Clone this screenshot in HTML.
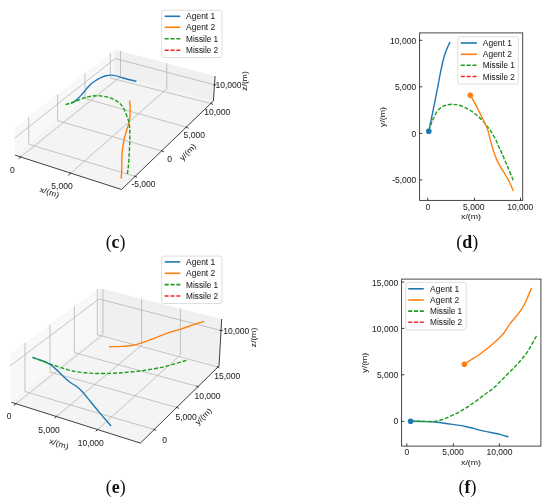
<!DOCTYPE html>
<html><head><meta charset="utf-8"><style>
html,body{margin:0;padding:0;background:#fff;}
svg{display:block;font-family:"Liberation Sans",sans-serif;filter:blur(0.3px);}
</style></head><body>
<svg width="550" height="501" viewBox="0 0 550 501">
<rect width="550" height="501" fill="#fff"/>
<polygon points="15.1,155.2 114.3,75.2 115,49.5 14.5,128" fill="#f8f8f8" stroke="none"/>
<polygon points="114.3,75.2 213.4,101 215.1,76 115,49.5" fill="#f0f0f0" stroke="none"/>
<polygon points="15.1,155.2 121.5,189.5 213.4,101 114.3,75.2" fill="#f4f4f4" stroke="none"/>
<line x1="28.70" y1="116.91" x2="28.70" y2="144.17" stroke="#adadad" stroke-width="0.7"/>
<line x1="57.60" y1="94.34" x2="57.60" y2="120.73" stroke="#adadad" stroke-width="0.7"/>
<line x1="85.00" y1="72.94" x2="85.00" y2="98.51" stroke="#adadad" stroke-width="0.7"/>
<line x1="110.30" y1="53.18" x2="110.30" y2="77.99" stroke="#adadad" stroke-width="0.7"/>
<line x1="14.50" y1="138.20" x2="115.20" y2="58.50" stroke="#adadad" stroke-width="0.7"/>
<line x1="120.50" y1="50.93" x2="120.50" y2="76.82" stroke="#adadad" stroke-width="0.7"/>
<line x1="166.80" y1="62.97" x2="166.80" y2="88.96" stroke="#adadad" stroke-width="0.7"/>
<line x1="115.20" y1="58.50" x2="214.60" y2="84.90" stroke="#adadad" stroke-width="0.7"/>
<line x1="20.70" y1="156.90" x2="119.50" y2="77.50" stroke="#adadad" stroke-width="0.7"/>
<line x1="70.30" y1="173.50" x2="166.80" y2="88.80" stroke="#adadad" stroke-width="0.7"/>
<line x1="28.70" y1="144.20" x2="135.40" y2="176.50" stroke="#adadad" stroke-width="0.7"/>
<line x1="57.60" y1="120.70" x2="162.40" y2="151.10" stroke="#adadad" stroke-width="0.7"/>
<line x1="85.00" y1="98.50" x2="186.90" y2="127.40" stroke="#adadad" stroke-width="0.7"/>
<line x1="110.30" y1="78.00" x2="211.50" y2="103.70" stroke="#adadad" stroke-width="0.7"/>
<line x1="15.10" y1="155.20" x2="121.50" y2="189.50" stroke="#2a2a2a" stroke-width="0.9"/>
<line x1="121.50" y1="189.50" x2="213.40" y2="101.00" stroke="#2a2a2a" stroke-width="0.9"/>
<line x1="213.40" y1="101.00" x2="215.10" y2="76.00" stroke="#2a2a2a" stroke-width="0.9"/>
<line x1="21.30" y1="156.30" x2="18.70" y2="158.70" stroke="#2a2a2a" stroke-width="1.0"/>
<line x1="70.90" y1="172.90" x2="68.30" y2="175.30" stroke="#2a2a2a" stroke-width="1.0"/>
<line x1="134.20" y1="175.90" x2="137.00" y2="177.30" stroke="#2a2a2a" stroke-width="0.9"/>
<line x1="161.20" y1="150.50" x2="164.00" y2="151.90" stroke="#2a2a2a" stroke-width="0.9"/>
<line x1="185.70" y1="126.80" x2="188.50" y2="128.20" stroke="#2a2a2a" stroke-width="0.9"/>
<line x1="210.30" y1="103.10" x2="213.10" y2="104.50" stroke="#2a2a2a" stroke-width="0.9"/>
<line x1="213.20" y1="84.90" x2="216.40" y2="84.90" stroke="#2a2a2a" stroke-width="0.9"/>
<path d="M70.90,103.50 C71.50,103.15 73.27,102.27 74.50,101.40 C75.73,100.53 77.08,99.45 78.30,98.30 C79.52,97.15 80.47,96.03 81.80,94.50 C83.13,92.97 84.82,90.80 86.30,89.10 C87.78,87.40 89.12,85.73 90.70,84.30 C92.28,82.87 94.10,81.62 95.80,80.50 C97.50,79.38 99.20,78.40 100.90,77.60 C102.60,76.80 104.40,76.12 106.00,75.70 C107.60,75.28 108.95,75.12 110.50,75.10 C112.05,75.08 113.53,75.22 115.30,75.60 C117.07,75.98 118.92,76.75 121.10,77.40 C123.28,78.05 125.85,78.85 128.40,79.50 C130.95,80.15 135.07,81.00 136.40,81.30" fill="none" stroke="#1f77b4" stroke-width="1.4" stroke-linecap="butt" stroke-linejoin="round"/>
<path d="M129.70,100.40 C129.78,102.20 130.27,107.68 130.20,111.20 C130.13,114.72 129.87,118.37 129.30,121.50 C128.73,124.63 127.62,127.22 126.80,130.00 C125.98,132.78 125.07,135.33 124.40,138.20 C123.73,141.07 123.22,144.20 122.80,147.20 C122.38,150.20 122.07,153.20 121.90,156.20 C121.73,159.20 121.85,162.50 121.80,165.20 C121.75,167.90 121.70,170.17 121.60,172.40 C121.50,174.63 121.27,177.57 121.20,178.60" fill="none" stroke="#ff7f0e" stroke-width="1.4" stroke-linecap="butt" stroke-linejoin="round"/>
<path d="M65.50,104.60 C66.52,104.30 69.60,103.47 71.60,102.80 C73.60,102.13 75.55,101.37 77.50,100.60 C79.45,99.83 81.37,98.87 83.30,98.20 C85.23,97.53 86.92,97.00 89.10,96.60 C91.28,96.20 93.98,95.85 96.40,95.80 C98.82,95.75 101.18,95.90 103.60,96.30 C106.02,96.70 108.47,97.23 110.90,98.20 C113.33,99.17 116.27,100.72 118.20,102.10 C120.13,103.48 121.27,104.70 122.50,106.50 C123.73,108.30 124.63,110.63 125.60,112.90 C126.57,115.17 127.63,117.70 128.30,120.10 C128.97,122.50 129.35,124.02 129.60,127.30 C129.85,130.58 129.87,135.32 129.80,139.80 C129.73,144.28 129.45,149.72 129.20,154.20 C128.95,158.68 128.60,163.42 128.30,166.70 C128.00,169.98 127.55,172.70 127.40,173.90" fill="none" stroke="#1a9f1a" stroke-width="1.4" stroke-linecap="butt" stroke-linejoin="round" stroke-dasharray="4.0,1.747"/>
<text x="9.93" y="172.62" font-size="8.5" textLength="4.74" lengthAdjust="spacingAndGlyphs" fill="#262626" stroke="#262626" stroke-width="0.05">0</text>
<text x="51.34" y="188.52" font-size="8.5" textLength="21.32" lengthAdjust="spacingAndGlyphs" fill="#262626" stroke="#262626" stroke-width="0.05">5,000</text>
<text x="39.31" y="194.85" font-size="7.6" textLength="19.99" lengthAdjust="spacingAndGlyphs" fill="#262626" stroke="#262626" stroke-width="0.05" transform="rotate(18 49.30 192.80)">x/(m)</text>
<text x="131.49" y="187.12" font-size="8.5" textLength="24.01" lengthAdjust="spacingAndGlyphs" fill="#262626" stroke="#262626" stroke-width="0.05">-5,000</text>
<text x="167.33" y="161.52" font-size="8.5" textLength="4.74" lengthAdjust="spacingAndGlyphs" fill="#262626" stroke="#262626" stroke-width="0.05">0</text>
<text x="183.64" y="137.52" font-size="8.5" textLength="21.32" lengthAdjust="spacingAndGlyphs" fill="#262626" stroke="#262626" stroke-width="0.05">5,000</text>
<text x="204.27" y="115.12" font-size="8.5" textLength="26.06" lengthAdjust="spacingAndGlyphs" fill="#262626" stroke="#262626" stroke-width="0.05">10,000</text>
<text x="178.21" y="154.45" font-size="7.6" textLength="19.99" lengthAdjust="spacingAndGlyphs" fill="#262626" stroke="#262626" stroke-width="0.05" transform="rotate(-47 188.20 152.40)">y/(m)</text>
<text x="215.47" y="87.92" font-size="8.5" textLength="26.06" lengthAdjust="spacingAndGlyphs" fill="#262626" stroke="#262626" stroke-width="0.05">10,000</text>
<text x="235.26" y="83.05" font-size="7.6" textLength="19.49" lengthAdjust="spacingAndGlyphs" fill="#262626" stroke="#262626" stroke-width="0.05" transform="rotate(-90 245.00 81.00)">z/(m)</text>
<rect x="161.6" y="10.2" width="60.400000000000006" height="47.3" rx="2" ry="2" fill="#ffffff" fill-opacity="0.85" stroke="#d6d6d6" stroke-width="0.8"/>
<line x1="164.70" y1="16.3" x2="180.30" y2="16.3" stroke="#1f77b4" stroke-width="1.6"/>
<text x="186.10" y="19.32" font-size="8.5" textLength="29.16" lengthAdjust="spacingAndGlyphs" fill="#262626" stroke="#262626" stroke-width="0.05">Agent 1</text>
<line x1="164.70" y1="27.3" x2="180.30" y2="27.3" stroke="#ff7f0e" stroke-width="1.6"/>
<text x="186.10" y="30.32" font-size="8.5" textLength="29.16" lengthAdjust="spacingAndGlyphs" fill="#262626" stroke="#262626" stroke-width="0.05">Agent 2</text>
<line x1="164.70" y1="38.8" x2="180.30" y2="38.8" stroke="#1a9f1a" stroke-width="1.6" stroke-dasharray="4.0,1.85"/>
<text x="186.10" y="41.82" font-size="8.5" textLength="32.09" lengthAdjust="spacingAndGlyphs" fill="#262626" stroke="#262626" stroke-width="0.05">Missile 1</text>
<line x1="164.70" y1="50.2" x2="180.30" y2="50.2" stroke="#ff2020" stroke-width="1.6" stroke-dasharray="4.0,1.85"/>
<text x="186.10" y="53.22" font-size="8.5" textLength="32.09" lengthAdjust="spacingAndGlyphs" fill="#262626" stroke="#262626" stroke-width="0.05">Missile 2</text>
<rect x="419.6" y="32.9" width="103.1" height="167.5" fill="#fff" stroke="#333333" stroke-width="0.9"/>
<line x1="427.80" y1="200.40" x2="427.80" y2="197.70" stroke="#262626" stroke-width="0.9"/>
<line x1="474.50" y1="200.40" x2="474.50" y2="197.70" stroke="#262626" stroke-width="0.9"/>
<line x1="520.50" y1="200.40" x2="520.50" y2="197.70" stroke="#262626" stroke-width="0.9"/>
<line x1="419.60" y1="40.30" x2="422.30" y2="40.30" stroke="#262626" stroke-width="0.9"/>
<line x1="419.60" y1="86.80" x2="422.30" y2="86.80" stroke="#262626" stroke-width="0.9"/>
<line x1="419.60" y1="133.40" x2="422.30" y2="133.40" stroke="#262626" stroke-width="0.9"/>
<line x1="419.60" y1="179.90" x2="422.30" y2="179.90" stroke="#262626" stroke-width="0.9"/>
<text x="425.63" y="209.52" font-size="8.5" textLength="4.74" lengthAdjust="spacingAndGlyphs" fill="#262626" stroke="#262626" stroke-width="0.05">0</text>
<text x="463.14" y="209.52" font-size="8.5" textLength="21.32" lengthAdjust="spacingAndGlyphs" fill="#262626" stroke="#262626" stroke-width="0.05">5,000</text>
<text x="507.27" y="209.52" font-size="8.5" textLength="26.06" lengthAdjust="spacingAndGlyphs" fill="#262626" stroke="#262626" stroke-width="0.05">10,000</text>
<text x="461.01" y="219.05" font-size="7.6" textLength="19.99" lengthAdjust="spacingAndGlyphs" fill="#262626" stroke="#262626" stroke-width="0.05">x/(m)</text>
<text x="390.14" y="43.82" font-size="8.5" textLength="26.06" lengthAdjust="spacingAndGlyphs" fill="#262626" stroke="#262626" stroke-width="0.05">10,000</text>
<text x="394.88" y="90.32" font-size="8.5" textLength="21.32" lengthAdjust="spacingAndGlyphs" fill="#262626" stroke="#262626" stroke-width="0.05">5,000</text>
<text x="411.46" y="136.52" font-size="8.5" textLength="4.74" lengthAdjust="spacingAndGlyphs" fill="#262626" stroke="#262626" stroke-width="0.05">0</text>
<text x="392.19" y="182.92" font-size="8.5" textLength="24.01" lengthAdjust="spacingAndGlyphs" fill="#262626" stroke="#262626" stroke-width="0.05">-5,000</text>
<text x="373.01" y="119.05" font-size="7.6" textLength="19.99" lengthAdjust="spacingAndGlyphs" fill="#262626" stroke="#262626" stroke-width="0.05" transform="rotate(-90 383.00 117.00)">y/(m)</text>
<path d="M428.80,131.20 C429.50,127.80 431.63,117.52 433.00,110.80 C434.37,104.08 435.83,96.88 437.00,90.90 C438.17,84.92 439.00,79.88 440.00,74.90 C441.00,69.92 442.00,64.98 443.00,61.00 C444.00,57.02 444.83,54.17 446.00,51.00 C447.17,47.83 449.33,43.50 450.00,42.00" fill="none" stroke="#1f77b4" stroke-width="1.4" stroke-linecap="butt" stroke-linejoin="round"/>
<path d="M428.80,131.20 C429.25,129.83 430.70,125.17 431.50,123.00 C432.30,120.83 432.65,120.13 433.60,118.20 C434.55,116.27 435.87,113.27 437.20,111.40 C438.53,109.53 440.13,108.03 441.60,107.00 C443.07,105.97 444.27,105.65 446.00,105.20 C447.73,104.75 449.90,104.32 452.00,104.30 C454.10,104.28 456.40,104.55 458.60,105.10 C460.80,105.65 463.00,106.55 465.20,107.60 C467.40,108.65 469.75,110.03 471.80,111.40 C473.85,112.77 475.67,114.23 477.50,115.80 C479.33,117.37 481.20,119.05 482.80,120.80 C484.40,122.55 485.65,124.38 487.10,126.30 C488.55,128.22 490.03,130.02 491.50,132.30 C492.97,134.58 494.70,137.63 495.90,140.00 C497.10,142.37 497.75,144.40 498.70,146.50 C499.65,148.60 500.22,149.47 501.60,152.60 C502.98,155.73 505.07,160.70 507.00,165.30 C508.93,169.90 512.17,177.72 513.20,180.20" fill="none" stroke="#1a9f1a" stroke-width="1.4" stroke-linecap="butt" stroke-linejoin="round" stroke-dasharray="4.0,1.734"/>
<path d="M470.30,95.30 C471.07,96.65 473.17,100.15 474.90,103.40 C476.63,106.65 478.98,111.37 480.70,114.80 C482.42,118.23 483.98,121.32 485.20,124.00 C486.42,126.68 487.15,128.22 488.00,130.90 C488.85,133.58 489.42,136.85 490.30,140.10 C491.18,143.35 492.23,147.15 493.30,150.40 C494.37,153.65 495.43,156.73 496.70,159.60 C497.97,162.47 499.37,164.92 500.90,167.60 C502.43,170.28 504.38,173.10 505.90,175.70 C507.42,178.30 508.78,180.65 510.00,183.20 C511.22,185.75 512.67,189.70 513.20,191.00" fill="none" stroke="#ff7f0e" stroke-width="1.4" stroke-linecap="butt" stroke-linejoin="round"/>
<circle cx="428.8" cy="131.3" r="2.8" fill="#1f77b4"/>
<circle cx="470.3" cy="95.3" r="2.8" fill="#ff7f0e"/>
<rect x="457.8" y="36.8" width="60.599999999999966" height="47.3" rx="2" ry="2" fill="#ffffff" fill-opacity="0.85" stroke="#d6d6d6" stroke-width="0.8"/>
<line x1="460.80" y1="43" x2="476.90" y2="43" stroke="#1f77b4" stroke-width="1.6"/>
<text x="482.80" y="46.02" font-size="8.5" textLength="29.16" lengthAdjust="spacingAndGlyphs" fill="#262626" stroke="#262626" stroke-width="0.05">Agent 1</text>
<line x1="460.80" y1="54.3" x2="476.90" y2="54.3" stroke="#ff7f0e" stroke-width="1.6"/>
<text x="482.80" y="57.32" font-size="8.5" textLength="29.16" lengthAdjust="spacingAndGlyphs" fill="#262626" stroke="#262626" stroke-width="0.05">Agent 2</text>
<line x1="460.80" y1="65.3" x2="476.90" y2="65.3" stroke="#1a9f1a" stroke-width="1.6" stroke-dasharray="4.0,1.85"/>
<text x="482.80" y="68.32" font-size="8.5" textLength="32.09" lengthAdjust="spacingAndGlyphs" fill="#262626" stroke="#262626" stroke-width="0.05">Missile 1</text>
<line x1="460.80" y1="76.5" x2="476.90" y2="76.5" stroke="#ff2020" stroke-width="1.6" stroke-dasharray="4.0,1.85"/>
<text x="482.80" y="79.52" font-size="8.5" textLength="32.09" lengthAdjust="spacingAndGlyphs" fill="#262626" stroke="#262626" stroke-width="0.05">Missile 2</text>
<polygon points="11.4,402.3 99,333.4 99,288 10,354" fill="#f8f8f8" stroke="none"/>
<polygon points="99,333.4 219,366 221.7,319 99,288" fill="#f0f0f0" stroke="none"/>
<polygon points="11.4,402.3 140.4,443.1 219,366 99,333.4" fill="#f4f4f4" stroke="none"/>
<line x1="25.00" y1="342.88" x2="25.00" y2="391.60" stroke="#adadad" stroke-width="0.7"/>
<line x1="50.00" y1="324.34" x2="50.00" y2="371.94" stroke="#adadad" stroke-width="0.7"/>
<line x1="74.40" y1="306.24" x2="74.40" y2="352.75" stroke="#adadad" stroke-width="0.7"/>
<line x1="97.40" y1="289.18" x2="97.40" y2="334.66" stroke="#adadad" stroke-width="0.7"/>
<line x1="10.00" y1="366.00" x2="99.00" y2="299.00" stroke="#adadad" stroke-width="0.7"/>
<line x1="103.00" y1="289.01" x2="103.00" y2="334.46" stroke="#adadad" stroke-width="0.7"/>
<line x1="141.60" y1="298.78" x2="141.60" y2="344.67" stroke="#adadad" stroke-width="0.7"/>
<line x1="180.40" y1="308.59" x2="180.40" y2="354.93" stroke="#adadad" stroke-width="0.7"/>
<line x1="99.00" y1="299.00" x2="221.00" y2="330.50" stroke="#adadad" stroke-width="0.7"/>
<line x1="15.80" y1="403.80" x2="103.00" y2="334.50" stroke="#adadad" stroke-width="0.7"/>
<line x1="56.60" y1="416.30" x2="142.20" y2="344.80" stroke="#adadad" stroke-width="0.7"/>
<line x1="97.70" y1="429.50" x2="180.40" y2="355.00" stroke="#adadad" stroke-width="0.7"/>
<line x1="25.00" y1="391.60" x2="154.50" y2="429.60" stroke="#adadad" stroke-width="0.7"/>
<line x1="50.00" y1="372.00" x2="177.30" y2="407.60" stroke="#adadad" stroke-width="0.7"/>
<line x1="74.40" y1="352.70" x2="197.30" y2="386.40" stroke="#adadad" stroke-width="0.7"/>
<line x1="97.40" y1="334.70" x2="217.80" y2="367.00" stroke="#adadad" stroke-width="0.7"/>
<line x1="11.40" y1="402.30" x2="140.40" y2="443.10" stroke="#2a2a2a" stroke-width="0.9"/>
<line x1="140.40" y1="443.10" x2="219.00" y2="366.00" stroke="#2a2a2a" stroke-width="0.9"/>
<line x1="219.00" y1="366.00" x2="221.70" y2="319.00" stroke="#2a2a2a" stroke-width="0.9"/>
<line x1="16.40" y1="403.20" x2="13.80" y2="405.60" stroke="#2a2a2a" stroke-width="1.0"/>
<line x1="57.20" y1="415.70" x2="54.60" y2="418.10" stroke="#2a2a2a" stroke-width="1.0"/>
<line x1="98.30" y1="428.90" x2="95.70" y2="431.30" stroke="#2a2a2a" stroke-width="1.0"/>
<line x1="153.30" y1="429.00" x2="156.10" y2="430.40" stroke="#2a2a2a" stroke-width="0.9"/>
<line x1="176.10" y1="407.00" x2="178.90" y2="408.40" stroke="#2a2a2a" stroke-width="0.9"/>
<line x1="196.10" y1="385.80" x2="198.90" y2="387.20" stroke="#2a2a2a" stroke-width="0.9"/>
<line x1="216.60" y1="366.40" x2="219.40" y2="367.80" stroke="#2a2a2a" stroke-width="0.9"/>
<line x1="219.50" y1="330.50" x2="222.80" y2="330.50" stroke="#2a2a2a" stroke-width="0.9"/>
<path d="M32.60,357.40 C34.37,358.00 40.22,359.80 43.20,361.00 C46.18,362.20 48.22,363.10 50.50,364.60 C52.78,366.10 54.88,368.15 56.90,370.00 C58.92,371.85 60.58,373.78 62.60,375.70 C64.62,377.62 66.67,379.70 69.00,381.50 C71.33,383.30 74.48,384.92 76.60,386.50 C78.72,388.08 80.22,389.50 81.70,391.00 C83.18,392.50 84.02,393.70 85.50,395.50 C86.98,397.30 88.68,399.47 90.60,401.80 C92.52,404.13 94.87,406.95 97.00,409.50 C99.13,412.05 101.07,414.35 103.40,417.10 C105.73,419.85 109.73,424.52 111.00,426.00" fill="none" stroke="#1f77b4" stroke-width="1.4" stroke-linecap="butt" stroke-linejoin="round"/>
<path d="M109.10,346.70 C111.22,346.65 117.87,346.63 121.80,346.40 C125.73,346.17 129.67,345.80 132.70,345.30 C135.73,344.80 136.52,344.52 140.00,343.40 C143.48,342.28 149.05,340.30 153.60,338.60 C158.15,336.90 162.75,334.78 167.30,333.20 C171.85,331.62 176.35,330.58 180.90,329.10 C185.45,327.62 190.70,325.58 194.60,324.30 C198.50,323.02 202.68,321.88 204.30,321.40" fill="none" stroke="#ff7f0e" stroke-width="1.4" stroke-linecap="butt" stroke-linejoin="round"/>
<path d="M32.60,357.40 C34.37,358.07 40.22,360.28 43.20,361.40 C46.18,362.52 47.47,363.05 50.50,364.10 C53.53,365.15 57.77,366.55 61.40,367.70 C65.03,368.85 68.37,370.15 72.30,371.00 C76.23,371.85 80.77,372.38 85.00,372.80 C89.23,373.22 93.38,373.40 97.70,373.50 C102.02,373.60 106.88,373.53 110.90,373.40 C114.92,373.27 118.17,372.97 121.80,372.70 C125.43,372.43 129.07,372.17 132.70,371.80 C136.33,371.43 139.97,371.02 143.60,370.50 C147.23,369.98 150.85,369.38 154.50,368.70 C158.15,368.02 161.85,367.30 165.50,366.40 C169.15,365.50 172.92,364.30 176.40,363.30 C179.88,362.30 184.73,360.88 186.40,360.40" fill="none" stroke="#1a9f1a" stroke-width="1.4" stroke-linecap="butt" stroke-linejoin="round" stroke-dasharray="4.0,1.908"/>
<text x="6.83" y="418.92" font-size="8.5" textLength="4.74" lengthAdjust="spacingAndGlyphs" fill="#262626" stroke="#262626" stroke-width="0.05">0</text>
<text x="38.34" y="432.52" font-size="8.5" textLength="21.32" lengthAdjust="spacingAndGlyphs" fill="#262626" stroke="#262626" stroke-width="0.05">5,000</text>
<text x="77.67" y="446.32" font-size="8.5" textLength="26.06" lengthAdjust="spacingAndGlyphs" fill="#262626" stroke="#262626" stroke-width="0.05">10,000</text>
<text x="48.81" y="446.45" font-size="7.6" textLength="19.99" lengthAdjust="spacingAndGlyphs" fill="#262626" stroke="#262626" stroke-width="0.05" transform="rotate(18 58.80 444.40)">x/(m)</text>
<text x="162.13" y="442.62" font-size="8.5" textLength="4.74" lengthAdjust="spacingAndGlyphs" fill="#262626" stroke="#262626" stroke-width="0.05">0</text>
<text x="175.44" y="420.12" font-size="8.5" textLength="21.32" lengthAdjust="spacingAndGlyphs" fill="#262626" stroke="#262626" stroke-width="0.05">5,000</text>
<text x="194.47" y="399.02" font-size="8.5" textLength="26.06" lengthAdjust="spacingAndGlyphs" fill="#262626" stroke="#262626" stroke-width="0.05">10,000</text>
<text x="214.17" y="378.82" font-size="8.5" textLength="26.06" lengthAdjust="spacingAndGlyphs" fill="#262626" stroke="#262626" stroke-width="0.05">15,000</text>
<text x="193.81" y="418.85" font-size="7.6" textLength="19.99" lengthAdjust="spacingAndGlyphs" fill="#262626" stroke="#262626" stroke-width="0.05" transform="rotate(-45 203.80 416.80)">y/(m)</text>
<text x="223.27" y="334.02" font-size="8.5" textLength="26.06" lengthAdjust="spacingAndGlyphs" fill="#262626" stroke="#262626" stroke-width="0.05">10,000</text>
<text x="244.46" y="339.55" font-size="7.6" textLength="19.49" lengthAdjust="spacingAndGlyphs" fill="#262626" stroke="#262626" stroke-width="0.05" transform="rotate(-90 254.20 337.50)">z/(m)</text>
<rect x="161.6" y="256.1" width="60.400000000000006" height="47.39999999999998" rx="2" ry="2" fill="#ffffff" fill-opacity="0.85" stroke="#d6d6d6" stroke-width="0.8"/>
<line x1="164.70" y1="261.9" x2="180.30" y2="261.9" stroke="#1f77b4" stroke-width="1.6"/>
<text x="186.10" y="264.92" font-size="8.5" textLength="29.16" lengthAdjust="spacingAndGlyphs" fill="#262626" stroke="#262626" stroke-width="0.05">Agent 1</text>
<line x1="164.70" y1="273.3" x2="180.30" y2="273.3" stroke="#ff7f0e" stroke-width="1.6"/>
<text x="186.10" y="276.32" font-size="8.5" textLength="29.16" lengthAdjust="spacingAndGlyphs" fill="#262626" stroke="#262626" stroke-width="0.05">Agent 2</text>
<line x1="164.70" y1="284.6" x2="180.30" y2="284.6" stroke="#1a9f1a" stroke-width="1.6" stroke-dasharray="4.0,1.85"/>
<text x="186.10" y="287.62" font-size="8.5" textLength="32.09" lengthAdjust="spacingAndGlyphs" fill="#262626" stroke="#262626" stroke-width="0.05">Missile 1</text>
<line x1="164.70" y1="296" x2="180.30" y2="296" stroke="#ff2020" stroke-width="1.6" stroke-dasharray="4.0,1.85"/>
<text x="186.10" y="299.02" font-size="8.5" textLength="32.09" lengthAdjust="spacingAndGlyphs" fill="#262626" stroke="#262626" stroke-width="0.05">Missile 2</text>
<rect x="401.6" y="279.1" width="139.3" height="167" fill="#fff" stroke="#333333" stroke-width="0.9"/>
<line x1="406.80" y1="446.10" x2="406.80" y2="443.40" stroke="#262626" stroke-width="0.9"/>
<line x1="453.40" y1="446.10" x2="453.40" y2="443.40" stroke="#262626" stroke-width="0.9"/>
<line x1="499.40" y1="446.10" x2="499.40" y2="443.40" stroke="#262626" stroke-width="0.9"/>
<line x1="401.60" y1="282.00" x2="404.30" y2="282.00" stroke="#262626" stroke-width="0.9"/>
<line x1="401.60" y1="328.40" x2="404.30" y2="328.40" stroke="#262626" stroke-width="0.9"/>
<line x1="401.60" y1="374.80" x2="404.30" y2="374.80" stroke="#262626" stroke-width="0.9"/>
<line x1="401.60" y1="421.30" x2="404.30" y2="421.30" stroke="#262626" stroke-width="0.9"/>
<text x="404.43" y="455.02" font-size="8.5" textLength="4.74" lengthAdjust="spacingAndGlyphs" fill="#262626" stroke="#262626" stroke-width="0.05">0</text>
<text x="442.34" y="455.02" font-size="8.5" textLength="21.32" lengthAdjust="spacingAndGlyphs" fill="#262626" stroke="#262626" stroke-width="0.05">5,000</text>
<text x="486.47" y="455.02" font-size="8.5" textLength="26.06" lengthAdjust="spacingAndGlyphs" fill="#262626" stroke="#262626" stroke-width="0.05">10,000</text>
<text x="461.01" y="464.55" font-size="7.6" textLength="19.99" lengthAdjust="spacingAndGlyphs" fill="#262626" stroke="#262626" stroke-width="0.05">x/(m)</text>
<text x="372.14" y="285.62" font-size="8.5" textLength="26.06" lengthAdjust="spacingAndGlyphs" fill="#262626" stroke="#262626" stroke-width="0.05">15,000</text>
<text x="372.14" y="332.12" font-size="8.5" textLength="26.06" lengthAdjust="spacingAndGlyphs" fill="#262626" stroke="#262626" stroke-width="0.05">10,000</text>
<text x="376.88" y="378.02" font-size="8.5" textLength="21.32" lengthAdjust="spacingAndGlyphs" fill="#262626" stroke="#262626" stroke-width="0.05">5,000</text>
<text x="393.46" y="424.32" font-size="8.5" textLength="4.74" lengthAdjust="spacingAndGlyphs" fill="#262626" stroke="#262626" stroke-width="0.05">0</text>
<text x="355.11" y="364.75" font-size="7.6" textLength="19.99" lengthAdjust="spacingAndGlyphs" fill="#262626" stroke="#262626" stroke-width="0.05" transform="rotate(-90 365.10 362.70)">y/(m)</text>
<path d="M410.60,421.30 C412.50,421.33 417.95,421.38 422.00,421.50 C426.05,421.62 430.57,421.63 434.90,422.00 C439.23,422.37 442.90,422.95 448.00,423.70 C453.10,424.45 459.68,425.30 465.50,426.50 C471.32,427.70 477.15,429.58 482.90,430.90 C488.65,432.22 495.75,433.38 500.00,434.40 C504.25,435.42 507.00,436.57 508.40,437.00" fill="none" stroke="#1f77b4" stroke-width="1.4" stroke-linecap="butt" stroke-linejoin="round"/>
<path d="M410.60,421.30 C412.50,421.30 418.77,421.27 422.00,421.30 C425.23,421.33 427.40,421.57 430.00,421.50 C432.60,421.43 435.05,421.42 437.60,420.90 C440.15,420.38 442.32,419.57 445.30,418.40 C448.28,417.23 452.12,415.60 455.50,413.90 C458.88,412.20 462.22,410.32 465.60,408.20 C468.98,406.08 472.40,403.65 475.80,401.20 C479.20,398.75 483.13,395.60 486.00,393.50 C488.87,391.40 490.33,390.90 493.00,388.60 C495.67,386.30 498.90,382.78 502.00,379.70 C505.10,376.62 508.60,373.18 511.60,370.10 C514.60,367.02 517.22,364.48 520.00,361.20 C522.78,357.92 525.55,354.60 528.30,350.40 C531.05,346.20 535.13,338.40 536.50,336.00" fill="none" stroke="#1a9f1a" stroke-width="1.4" stroke-linecap="butt" stroke-linejoin="round" stroke-dasharray="4.0,1.788"/>
<path d="M464.20,364.10 C465.30,363.42 468.50,361.43 470.80,360.00 C473.10,358.57 475.63,357.12 478.00,355.50 C480.37,353.88 482.73,352.05 485.00,350.30 C487.27,348.55 489.40,346.88 491.60,345.00 C493.80,343.12 496.22,340.92 498.20,339.00 C500.18,337.08 502.03,335.28 503.50,333.50 C504.97,331.72 505.87,330.00 507.00,328.30 C508.13,326.60 509.02,325.00 510.30,323.30 C511.58,321.60 513.23,319.88 514.70,318.10 C516.17,316.32 517.63,314.62 519.10,312.60 C520.57,310.58 522.03,308.67 523.50,306.00 C524.97,303.33 526.57,299.58 527.90,296.60 C529.23,293.62 530.90,289.52 531.50,288.10" fill="none" stroke="#ff7f0e" stroke-width="1.4" stroke-linecap="butt" stroke-linejoin="round"/>
<circle cx="410.6" cy="421.3" r="2.8" fill="#1f77b4"/>
<circle cx="464.4" cy="364.2" r="2.8" fill="#ff7f0e"/>
<rect x="405.6" y="282.3" width="60.599999999999966" height="47.69999999999999" rx="2" ry="2" fill="#ffffff" fill-opacity="0.85" stroke="#d6d6d6" stroke-width="0.8"/>
<line x1="408.20" y1="288.8" x2="423.80" y2="288.8" stroke="#1f77b4" stroke-width="1.6"/>
<text x="430.10" y="291.82" font-size="8.5" textLength="29.16" lengthAdjust="spacingAndGlyphs" fill="#262626" stroke="#262626" stroke-width="0.05">Agent 1</text>
<line x1="408.20" y1="300" x2="423.80" y2="300" stroke="#ff7f0e" stroke-width="1.6"/>
<text x="430.10" y="303.02" font-size="8.5" textLength="29.16" lengthAdjust="spacingAndGlyphs" fill="#262626" stroke="#262626" stroke-width="0.05">Agent 2</text>
<line x1="408.20" y1="311.1" x2="423.80" y2="311.1" stroke="#1a9f1a" stroke-width="1.6" stroke-dasharray="4.0,1.85"/>
<text x="430.10" y="314.12" font-size="8.5" textLength="32.09" lengthAdjust="spacingAndGlyphs" fill="#262626" stroke="#262626" stroke-width="0.05">Missile 1</text>
<line x1="408.20" y1="322.3" x2="423.80" y2="322.3" stroke="#ff2020" stroke-width="1.6" stroke-dasharray="4.0,1.85"/>
<text x="430.10" y="325.32" font-size="8.5" textLength="32.09" lengthAdjust="spacingAndGlyphs" fill="#262626" stroke="#262626" stroke-width="0.05">Missile 2</text>
<text x="115.6" y="247.8" font-family="Liberation Serif, serif" font-size="17.9" text-anchor="middle" fill="#111">(<tspan font-weight="bold">c</tspan>)</text>
<text x="467.2" y="247.8" font-family="Liberation Serif, serif" font-size="17.9" text-anchor="middle" fill="#111">(<tspan font-weight="bold">d</tspan>)</text>
<text x="115.7" y="493.1" font-family="Liberation Serif, serif" font-size="17.9" text-anchor="middle" fill="#111">(<tspan font-weight="bold">e</tspan>)</text>
<text x="467.5" y="493.1" font-family="Liberation Serif, serif" font-size="17.9" text-anchor="middle" fill="#111">(<tspan font-weight="bold">f</tspan>)</text>
</svg>
</body></html>
